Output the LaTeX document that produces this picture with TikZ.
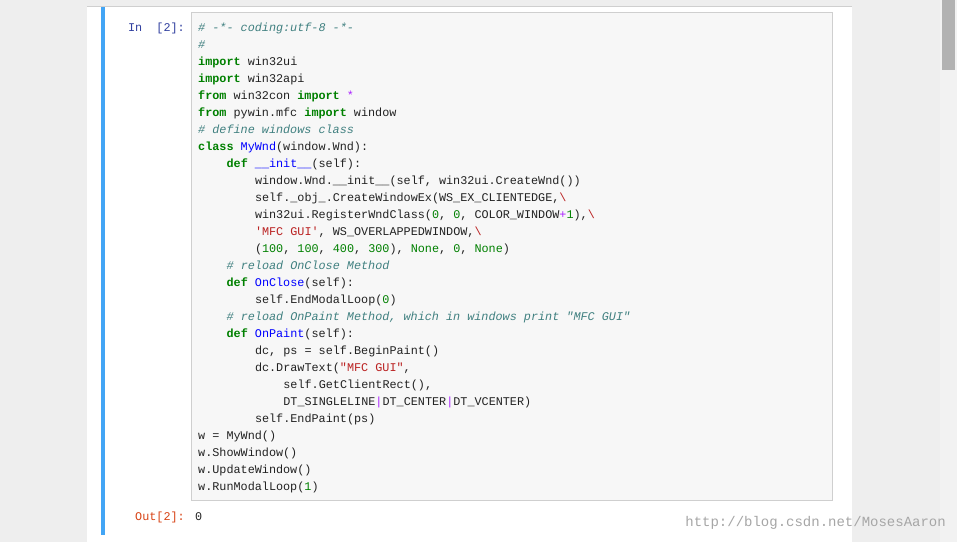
\documentclass[tikz,border=0pt]{standalone}
\usepackage{fontspec}
\setmonofont{Liberation Mono}
\setmainfont{Liberation Sans}
\definecolor{bg}{HTML}{EEEEEE}
\definecolor{codebg}{HTML}{F7F7F7}
\definecolor{codeborder}{HTML}{CFCFCF}
\definecolor{kwc}{HTML}{008000}
\definecolor{cmc}{HTML}{408080}
\definecolor{fnc}{HTML}{0000FF}
\definecolor{stc}{HTML}{BA2121}
\definecolor{opc}{HTML}{AA22FF}
\definecolor{txc}{HTML}{222222}
\definecolor{inc}{HTML}{303F9F}
\definecolor{outc}{HTML}{D84315}
\definecolor{barc}{HTML}{42A5F5}
\newcommand\kw[1]{\textcolor{kwc}{\bfseries #1}}
\newcommand\kwn[1]{\textcolor{kwc}{#1}}
\newcommand\cm[1]{\textcolor{cmc}{\itshape #1}}
\newcommand\fn[1]{\textcolor{fnc}{#1}}
\newcommand\st[1]{\textcolor{stc}{#1}}
\newcommand\op[1]{\textcolor{opc}{#1}}
\newcommand\nm[1]{\textcolor{kwc}{#1}}
\tikzset{
  code/.style={anchor=base west, inner sep=0pt, font=\ttfamily\fontsize{11.8}{14}\selectfont, text=txc},
  prompt/.style={anchor=base east, inner sep=0pt, font=\ttfamily\fontsize{11.8}{14}\selectfont}
}
\begin{document}
\begin{tikzpicture}[x=1pt,y=-1pt]
\useasboundingbox (0,0) rectangle (957,542);
\fill[bg] (0,0) rectangle (957,542);
\fill[white] (87,6) rectangle (852,542);
\draw[codeborder] (87,6.5) -- (852,6.5);
\fill[barc] (101,7) rectangle (105,535);
\draw[codeborder, fill=codebg] (191.5,12.5) rectangle (832.5,500.5);
% scrollbar
\fill[white!95!black] (940,0) rectangle (957,542);
\fill[gray!60] (942,0) rectangle (955,70);
\node[prompt, text=inc] (inp) at (185,31) {In\ \ [2]:};
\node[prompt, text=outc] (outp) at (185,520) {Out[2]:};
\node[code] (out) at (195,520) {0};
\def\X{198}
\node[code] (l1) at (\X,31) {\cm{\# -*- coding:utf-8 -*-}};
\node[code] (l2) at (\X,48) {\cm{\#}};
\node[code] (l3) at (\X,65) {\kw{import} win32ui};
\node[code] (l4) at (\X,82) {\kw{import} win32api};
\node[code] (l5) at (\X,99) {\kw{from} win32con \kw{import} \op{*}};
\node[code] (l6) at (\X,116) {\kw{from} pywin.mfc \kw{import} window};
\node[code] (l7) at (\X,133) {\cm{\# define windows class}};
\node[code] (l8) at (\X,150) {\kw{class} \fn{MyWnd}(window.Wnd):};
\node[code] (l9) at (226.4,167) {\kw{def} \fn{\_\_init\_\_}(self):};
\node[code] (l10) at (254.8,184) {window.Wnd.\_\_init\_\_(self, win32ui.CreateWnd())};
\node[code] (l11) at (254.8,201) {self.\_obj\_.CreateWindowEx(WS\_EX\_CLIENTEDGE,\st{\textbackslash}};
\node[code] (l12) at (254.8,218) {win32ui.RegisterWndClass(\nm{0}, \nm{0}, COLOR\_WINDOW\op{+}\nm{1}),\st{\textbackslash}};
\node[code] (l13) at (254.8,235) {\st{'MFC GUI'}, WS\_OVERLAPPEDWINDOW,\st{\textbackslash}};
\node[code] (l14) at (254.8,252) {(\nm{100}, \nm{100}, \nm{400}, \nm{300}), \kwn{None}, \nm{0}, \kwn{None})};
\node[code] (l15) at (226.4,269) {\cm{\# reload OnClose Method}};
\node[code] (l16) at (226.4,286) {\kw{def} \fn{OnClose}(self):};
\node[code] (l17) at (254.8,303) {self.EndModalLoop(\nm{0})};
\node[code] (l18) at (226.4,320) {\cm{\# reload OnPaint Method, which in windows print "MFC GUI"}};
\node[code] (l19) at (226.4,337) {\kw{def} \fn{OnPaint}(self):};
\node[code] (l20) at (254.8,354) {dc, ps = self.BeginPaint()};
\node[code] (l21) at (254.8,371) {dc.DrawText(\st{"MFC GUI"},};
\node[code] (l22) at (283.2,388) {self.GetClientRect(),};
\node[code] (l23) at (283.2,405) {DT\_SINGLELINE\op{|}DT\_CENTER\op{|}DT\_VCENTER)};
\node[code] (l24) at (254.8,422) {self.EndPaint(ps)};
\node[code] (l25) at (\X,439) {w = MyWnd()};
\node[code] (l26) at (\X,456) {w.ShowWindow()};
\node[code] (l27) at (\X,473) {w.UpdateWindow()};
\node[code] (l28) at (\X,490) {w.RunModalLoop(\nm{1})};
\node[anchor=base east, inner sep=0pt, font=\ttfamily\fontsize{14}{16}\selectfont, text=gray!70] (wm) at (946,526) {http://blog.csdn.net/MosesAaron};
\end{tikzpicture}
\end{document}
